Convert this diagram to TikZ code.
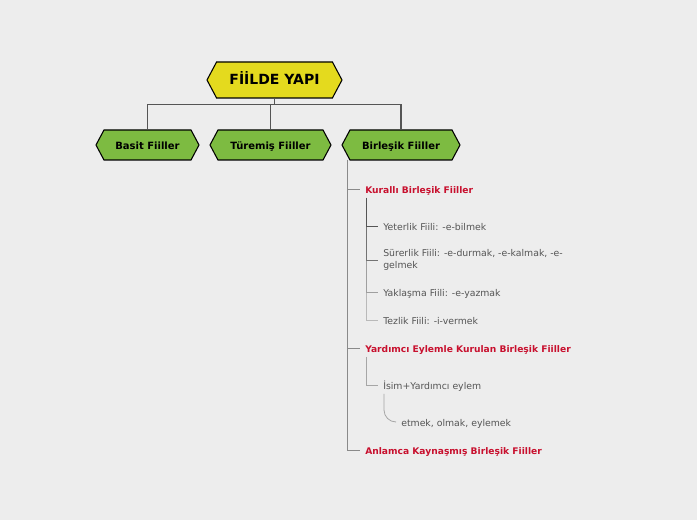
\documentclass[tikz,border=0pt]{standalone}
\usepackage{fontspec}
\setmainfont{DejaVu Sans}
\usetikzlibrary{shapes.symbols}
\definecolor{bgc}{HTML}{EDEDED}
\definecolor{rootc}{HTML}{E4DA1E}
\definecolor{greenc}{HTML}{7DBB41}
\definecolor{redc}{HTML}{C8102E}
\definecolor{txtc}{HTML}{555555}
\definecolor{linec}{HTML}{555555}
\definecolor{trunkc}{HTML}{8A8A8A}
\tikzset{
  hexbox/.style={signal, signal to=east and west, signal pointer angle=124, draw=black, line width=0.8pt, inner sep=0pt, text height=0.73em, text depth=0pt},
  rootbox/.style={hexbox, fill=rootc, minimum height=27pt, minimum width=101.25pt, font=\bfseries\fontsize{10.5}{12}\selectfont},
  childbox/.style={hexbox, fill=greenc, minimum height=22.5pt, font=\bfseries\fontsize{7.5}{9}\selectfont},
  catnode/.style={anchor=west, inner xsep=3.75pt, inner ysep=1pt, text height=0.73em, text depth=0pt, text=redc, font=\bfseries\fontsize{6.85}{9}\selectfont},
  itemnode/.style={anchor=west, inner xsep=3.75pt, inner ysep=1pt, text=txtc, font=\fontsize{7}{9}\selectfont, align=left},
  oneline/.style={text height=0.73em, text depth=0pt},
  conn/.style={draw=linec, line width=0.8pt},
  trunk/.style={draw=trunkc, line width=0.6pt},
}
\begin{document}
\begin{tikzpicture}[x=0.75pt,y=-0.75pt]
\fill[bgc] (0,0) rectangle (697,520);
\node[rootbox] (root) at (274.5,80) {FİİLDE YAPI};
\node[childbox, minimum width=77.25pt] (basit) at (147.5,145) {Basit Fiiller};
\node[childbox, minimum width=90.75pt] (tur) at (270.5,145) {Türemiş Fiiller};
\node[childbox, minimum width=88.5pt] (bir) at (401,145) {Birleşik Fiiller};
\draw[conn] (root.south) -- ++(0,6) -| (basit.north);
\draw[conn] (root.south) -- ++(0,6) -| (tur.north);
\draw[conn] (root.south) -- ++(0,6) -| (bir.north);
% main categories
\coordinate (t0) at (347,160);
\node[catnode] (kur) at (360,189) {Kurallı Birleşik Fiiller};
\node[catnode] (yar) at (360,348) {Yardımcı Eylemle Kurulan Birleşik Fiiller};
\node[catnode] (anl) at (360,450) {Anlamca Kaynaşmış Birleşik Fiiller};
\draw[trunk] (t0) |- (anl.west);
\draw[trunk] (t0) |- (yar.west);
\draw[trunk] (t0) |- (kur.west);
% Kurallı subtree
\coordinate (s0) at (366,198);
\node[itemnode, oneline] (yet) at (378,226) {Yeterlik Fiili: -e-bilmek};
\node[itemnode] (sur) at (378,260) {Sürerlik Fiili: -e-durmak, -e-kalmak, -e-\\gelmek};
\node[itemnode, oneline] (yak) at (378,292) {Yaklaşma Fiili: -e-yazmak};
\node[itemnode, oneline] (tez) at (378,320) {Tezlik Fiili: -i-vermek};
\draw[draw=gray!55, line width=0.7pt] (s0) |- (tez.west);
\draw[draw=gray!75, line width=0.7pt] (s0) |- (yak.west);
\draw[draw=gray!90!black, line width=0.7pt] (s0) |- (sur.west);
\draw[draw=linec, line width=0.7pt] (s0) |- (yet.west);
% Yardımcı subtree
\coordinate (s1) at (366,357);
\node[itemnode, oneline] (isim) at (378,385) {İsim+Yardımcı eylem};
\node[itemnode, oneline] (etm) at (396,422) {etmek, olmak, eylemek};
\draw[draw=gray!70, line width=0.6pt] (s1) |- (isim.west);
\coordinate (s2) at (384,394);
\draw[draw=gray!70, line width=0.6pt, rounded corners=9pt] (s2) |- (etm.west);
\end{tikzpicture}
\end{document}
